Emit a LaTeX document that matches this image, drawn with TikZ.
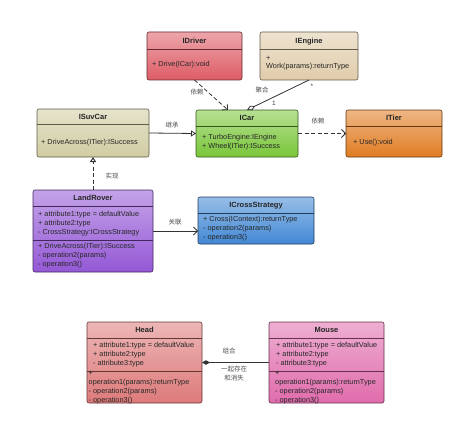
\documentclass[tikz,border=0pt]{standalone}
\usepackage{fontspec}
\setmainfont{Liberation Sans}
\newfontfamily\cjk{Noto Sans CJK SC}
\usetikzlibrary{arrows.meta,calc}
\definecolor{umlline}{RGB}{51,51,51}
\definecolor{driverred}{RGB}{222,92,102}
\definecolor{enginetan}{RGB}{224,204,170}
\definecolor{suvkhaki}{RGB}{208,204,162}
\definecolor{cargreen}{RGB}{122,198,58}
\definecolor{tierorange}{RGB}{224,124,34}
\definecolor{roverpurple}{RGB}{148,88,214}
\definecolor{strategyblue}{RGB}{66,136,212}
\definecolor{headsalmon}{RGB}{222,122,122}
\definecolor{mousepink}{RGB}{224,108,172}

\begin{document}
\begin{tikzpicture}[x=1pt, y=-1pt,
  umlbox/.style={draw=#1!45!black, line width=0.6pt, rounded corners=2pt, top color=#1!55!white, bottom color=#1, inner sep=0pt, outer sep=0pt, anchor=north west},
  compline/.style={draw=#1!45!black, line width=0.6pt},
  ctitle/.style={font=\fontsize{7.5}{9}\selectfont\bfseries, text=black!85, inner sep=0pt, anchor=base},
  members/.style={font=\fontsize{7.3}{9}\selectfont, text=black!85, align=left, inner sep=0pt, anchor=base west},
  conn/.style={draw=umlline, line width=0.8pt},
  depend/.style={conn, dash pattern=on 4pt off 2.5pt, -{Straight Barb[length=4pt, width=8pt]}},
  inherit/.style={conn, -{Triangle[open, length=5pt, width=6pt]}},
  realize/.style={conn, line width=1pt, dash pattern=on 4pt off 2.5pt, -{Triangle[open, length=5pt, width=6pt]}},
  assoc/.style={conn, -{Straight Barb[length=4pt, width=8pt]}},
  aggreg/.style={conn, -{Diamond[open, length=9pt, width=5pt]}},
  compos/.style={conn, -{Diamond[length=8pt, width=4.5pt]}},
  lbl/.style={font=\cjk\fontsize{6.5}{9}\selectfont, text=black!70, inner sep=0pt, align=center},
  mult/.style={font=\fontsize{6.5}{8}\selectfont, text=black!75, inner sep=0pt}]
  \useasboundingbox[fill=white] (0,0) rectangle (474,436);

  % IDriver
  \node[umlbox=driverred, minimum width=95pt, minimum height=48pt] (idriver) at (147,32) {};
  \draw[compline=driverred] ([yshift=-17pt]idriver.north west) -- ([yshift=-17pt]idriver.north east);
  \node[ctitle] (idriver-t) at ([yshift=-11.2pt]idriver.north) {IDriver};
  \node[members] (idriver-m) at ([xshift=5pt, yshift=-34.5pt]idriver.north west) {+ Drive(ICar):void};

  % IEngine
  \node[umlbox=enginetan, minimum width=98pt, minimum height=48pt] (iengine) at (260,32) {};
  \draw[compline=enginetan] ([yshift=-17pt]iengine.north west) -- ([yshift=-17pt]iengine.north east);
  \node[ctitle] (iengine-t) at ([yshift=-11.2pt]iengine.north) {IEngine};
  \node[members] (iengine-m) at ([xshift=6pt, yshift=-37pt]iengine.north west) {+\\Work(params):returnType};

  % ISuvCar
  \node[umlbox=suvkhaki, minimum width=112pt, minimum height=48pt] (isuvcar) at (37,109) {};
  \draw[compline=suvkhaki] ([yshift=-15pt]isuvcar.north west) -- ([yshift=-15pt]isuvcar.north east);
  \node[ctitle] (isuvcar-t) at ([yshift=-10.5pt]isuvcar.north) {ISuvCar};
  \node[members] (isuvcar-m) at ([xshift=4pt, yshift=-35.5pt]isuvcar.north west) {+ DriveAcross(ITier):ISuccess};

  % ICar
  \node[umlbox=cargreen, minimum width=102pt, minimum height=47pt] (icar) at (196,110) {};
  \draw[compline=cargreen] ([yshift=-16pt]icar.north west) -- ([yshift=-16pt]icar.north east);
  \node[ctitle] (icar-t) at ([yshift=-10.7pt]icar.north) {ICar};
  \node[members] (icar-m) at ([xshift=6pt, yshift=-38.5pt]icar.north west) {+ TurboEngine:IEngine\\+ Wheel(ITier):ISuccess};

  % ITier
  \node[umlbox=tierorange, minimum width=96pt, minimum height=47pt] (itier) at (346,110) {};
  \draw[compline=tierorange] ([yshift=-16pt]itier.north west) -- ([yshift=-16pt]itier.north east);
  \node[ctitle] (itier-t) at ([yshift=-10.7pt]itier.north) {ITier};
  \node[members] (itier-m) at ([xshift=7pt, yshift=-34.5pt]itier.north west) {+ Use():void};

  % LandRover
  \node[umlbox=roverpurple, minimum width=120pt, minimum height=82pt] (landrover) at (33,190) {};
  \draw[compline=roverpurple] ([yshift=-16pt]landrover.north west) -- ([yshift=-16pt]landrover.north east);
  \draw[compline=roverpurple] ([yshift=-50pt]landrover.north west) -- ([yshift=-50pt]landrover.north east);
  \node[ctitle] (landrover-t) at ([yshift=-10.7pt]landrover.north) {LandRover};
  \node[members] (landrover-a) at ([xshift=5pt, yshift=-44.5pt]landrover.north west) {+ attribute1:type = defaultValue\\+ attribute2:type\\- CrossStrategy:ICrossStrategy};
  \node[members] (landrover-o) at ([xshift=5pt, yshift=-76.5pt]landrover.north west) {+ DriveAcross(ITier):ISuccess\\- operation2(params)\\- operation3()};

  % ICrossStrategy
  \node[umlbox=strategyblue, minimum width=116pt, minimum height=47pt] (icross) at (198,197) {};
  \draw[compline=strategyblue] ([yshift=-16pt]icross.north west) -- ([yshift=-16pt]icross.north east);
  \node[ctitle] (icross-t) at ([yshift=-10.7pt]icross.north) {ICrossStrategy};
  \node[members] (icross-m) at ([xshift=5pt, yshift=-42.5pt]icross.north west) {+ Cross(IContext):returnType\\- operation2(params)\\- operation3()};

  % Head
  \node[umlbox=headsalmon, minimum width=115pt, minimum height=81pt] (head) at (87,322) {};
  \draw[compline=headsalmon] ([yshift=-16pt]head.north west) -- ([yshift=-16pt]head.north east);
  \draw[compline=headsalmon] ([yshift=-49pt]head.north west) -- ([yshift=-49pt]head.north east);
  \node[ctitle] (head-t) at ([yshift=-10.7pt]head.north) {Head};
  \node[members] (head-a) at ([xshift=6pt, yshift=-43.5pt]head.north west) {+ attribute1:type = defaultValue\\+ attribute2:type\\- attribute3:type};
  \node[members] (head-o) at ([xshift=1.5pt, yshift=-80pt]head.north west) {+\\operation1(params):returnType\\- operation2(params)\\- operation3()};

  % Mouse
  \node[umlbox=mousepink, minimum width=115pt, minimum height=81pt] (mouse) at (269,322) {};
  \draw[compline=mousepink] ([yshift=-16pt]mouse.north west) -- ([yshift=-16pt]mouse.north east);
  \draw[compline=mousepink] ([yshift=-49pt]mouse.north west) -- ([yshift=-49pt]mouse.north east);
  \node[ctitle] (mouse-t) at ([yshift=-10.7pt]mouse.north) {Mouse};
  \node[members] (mouse-a) at ([xshift=7pt, yshift=-43.5pt]mouse.north west) {+ attribute1:type = defaultValue\\+ attribute2:type\\- attribute3:type};
  \node[members] (mouse-o) at ([xshift=6pt, yshift=-80pt]mouse.north west) {+\\operation1(params):returnType\\- operation2(params)\\- operation3()};

  % relations
  \draw[depend] (idriver.south) -- ([xshift=-19pt]icar.north);
  \draw[aggreg] (iengine.south) -- (icar.north);
  \draw[inherit] (isuvcar.east) -- (icar.west);
  \draw[depend] (icar.east) -- (itier.west);
  \draw[realize] (landrover.north) -- (isuvcar.south);
  \draw[assoc] (landrover.east) -- (landrover.east -| icross.west);
  \draw[compos] (mouse.west) -- (head.east);

  \node[lbl] (dep1-l) at (197,92) {依赖};
  \node[lbl] (agg-l) at (262,90) {聚合};
  \node[mult] (agg-m1) at (312,86) {*};
  \node[mult] (agg-m2) at (274,103) {1};
  \node[lbl] (inh-l) at (172,125) {继承};
  \node[lbl] (dep2-l) at (318,121) {依赖};
  \node[lbl] (real-l) at (112,176) {实现};
  \node[lbl] (assoc-l) at (175,222) {关联};
  \node[lbl] (comp-l) at (229,351) {组合};
  \node[lbl] (comp-n) at (234,374) {一起存在\\和消失};
\end{tikzpicture}
\end{document}
